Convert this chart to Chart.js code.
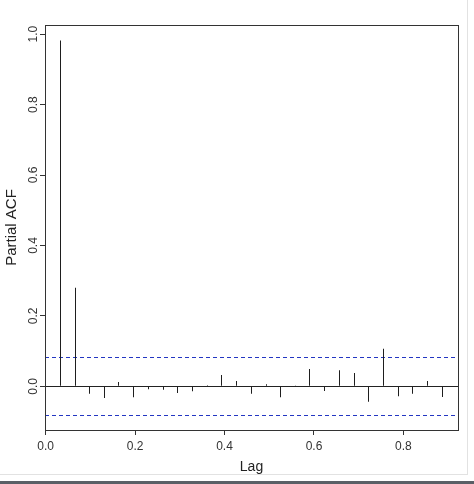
<!DOCTYPE html>
<html lang="en">

<head>
    <meta charset="UTF-8">
    <script src="https://cdn.jsdelivr.net/npm/chart.js"></script>
    <title>Partial ACF</title>
    <style>
        body { margin: 0; background: #fff; }
        #wrap { position: relative; width: 474px; height: 484px; }
        #edgeR { position: absolute; left: 467px; top: 0; width: 1px; height: 474px; background: #e2e2e2; }
        #edgeB { position: absolute; left: 0; top: 474px; width: 468px; height: 1px; background: #e2e2e2; }
        #bar { position: absolute; left: 0; top: 481px; width: 474px; height: 3px; background: #5a5f66; }
    </style>
</head>

<body>
    <div id="wrap">
        <canvas id="pacfChart" width="474" height="484"></canvas>
        <div id="edgeR"></div>
        <div id="edgeB"></div>
        <div id="bar"></div>
    </div>
    <script>
        // lags and partial autocorrelations
        const lags = [0.033, 0.066, 0.099, 0.131, 0.164, 0.197, 0.230, 0.263, 0.296, 0.329,
            0.361, 0.394, 0.427, 0.460, 0.493, 0.526, 0.558, 0.591, 0.624, 0.657,
            0.690, 0.723, 0.756, 0.789, 0.821, 0.854, 0.887];
        const pacf = [0.982, 0.280, -0.021, -0.033, 0.012, -0.031, -0.008, -0.010, -0.019, -0.014,
            0.003, 0.032, 0.015, -0.021, 0.006, -0.031, 0.001, 0.049, -0.013, 0.046,
            0.038, -0.044, 0.107, -0.028, -0.021, 0.015, -0.030];
        const ciLimit = 0.083;
        const xRange = [-0.0013, 0.922];
        const yRange = [-0.124, 1.026];
        const xTicks = [0.0, 0.2, 0.4, 0.6, 0.8];
        const yTicks = [0.0, 0.2, 0.4, 0.6, 0.8, 1.0];

        const font = "'Liberation Sans', Arial, sans-serif";

        // snap spikes and horizontal lines to whole pixels so they stay 1px sharp
        const snap = {
            id: "snap",
            beforeDatasetsDraw(chart) {
                chart.data.datasets.forEach((ds, i) => {
                    const meta = chart.getDatasetMeta(i);
                    meta.data.forEach(el => {
                        if (ds.type === "bar") el.x = Math.floor(el.x) + 0.5;
                        else el.y = Math.floor(el.y) + 0.5;
                    });
                });
            }
        };

        // box round the plot region and vertical y tick labels, as R draws them
        const rStyle = {
            id: "rStyle",
            afterDraw(chart) {
                const { ctx, chartArea: a, scales } = chart;
                ctx.save();
                ctx.strokeStyle = "#333";
                ctx.lineWidth = 1;
                ctx.strokeRect(Math.round(a.left) + 0.5, Math.round(a.top) + 0.5,
                    Math.round(a.right - a.left), Math.round(a.bottom - a.top));
                ctx.fillStyle = "#333";
                ctx.font = "12px " + font;
                ctx.textAlign = "center";
                ctx.textBaseline = "middle";
                yTicks.forEach(v => {
                    const y = scales.y.getPixelForValue(v);
                    ctx.save();
                    ctx.translate(34, y);
                    ctx.rotate(-Math.PI / 2);
                    ctx.fillText(v.toFixed(1), 0, 0);
                    ctx.restore();
                });
                ctx.restore();
            }
        };

        const ctx = document.getElementById("pacfChart");
        new Chart(ctx, {
            type: "bar",
            data: {
                datasets: [{
                    type: "bar",
                    data: lags.map((x, i) => ({ x: x, y: pacf[i] })),
                    backgroundColor: "#1e1e1e",
                    borderWidth: 0,
                    inflateAmount: 0,
                    barThickness: 1
                }, {
                    type: "line",
                    data: [{ x: xRange[0], y: 0 }, { x: xRange[1], y: 0 }],
                    borderColor: "#222",
                    borderWidth: 1,
                    pointRadius: 0
                }, {
                    type: "line",
                    data: [{ x: xRange[0], y: ciLimit }, { x: xRange[1], y: ciLimit }],
                    borderColor: "#2336c2",
                    borderWidth: 1,
                    borderDash: [4, 3],
                    pointRadius: 0
                }, {
                    type: "line",
                    data: [{ x: xRange[0], y: -ciLimit }, { x: xRange[1], y: -ciLimit }],
                    borderColor: "#2336c2",
                    borderWidth: 1,
                    borderDash: [4, 3],
                    pointRadius: 0
                }]
            },
            options: {
                responsive: false,
                animation: false,
                layout: { padding: { top: 25, right: 16, left: 0, bottom: 0 } },
                plugins: {
                    legend: { display: false },
                    tooltip: { enabled: false }
                },
                scales: {
                    x: {
                        type: "linear",
                        min: xRange[0],
                        max: xRange[1],
                        offset: false,
                        afterBuildTicks: s => { s.ticks = xTicks.map(v => ({ value: v })); },
                        afterFit: s => { s.height = 54; },
                        grid: {
                            offset: false,
                            drawOnChartArea: false,
                            drawTicks: true,
                            tickLength: 5,
                            tickColor: "#333"
                        },
                        border: { display: false },
                        ticks: {
                            color: "#333",
                            padding: 4,
                            maxRotation: 0,
                            font: { family: font, size: 12 },
                            callback: v => v.toFixed(1)
                        },
                        title: {
                            display: true,
                            text: "Lag",
                            color: "#222",
                            font: { family: font, size: 14 },
                            padding: { top: 0, bottom: 8 }
                        }
                    },
                    y: {
                        min: yRange[0],
                        max: yRange[1],
                        afterBuildTicks: s => { s.ticks = yTicks.map(v => ({ value: v })); },
                        afterFit: s => { s.width = 45; },
                        grid: {
                            drawOnChartArea: false,
                            drawTicks: true,
                            tickLength: 5,
                            tickColor: "#333"
                        },
                        border: { display: false },
                        ticks: { display: false },
                        title: {
                            display: true,
                            text: "Partial ACF",
                            color: "#222",
                            font: { family: font, size: 15 },
                            padding: { top: 3, bottom: 0 }
                        }
                    }
                }
            },
            plugins: [snap, rStyle]
        });
    </script>
</body>

</html>
